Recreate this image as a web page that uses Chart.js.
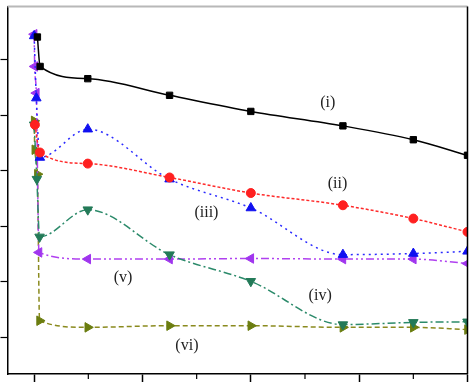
<!DOCTYPE html>
<html>
<head>
<meta charset="utf-8">
<script src="https://cdn.jsdelivr.net/npm/chart.js@4/dist/chart.umd.min.js"></script>
<style>
  html, body { margin: 0; padding: 0; background: #fff; }
  #wrap { width: 474px; height: 382px; position: relative; }
</style>
</head>
<body>
<div id="wrap"><canvas id="chart"></canvas></div>
<script>
// values (x in axis units, y in axis units)
const xI   = [0.3, 0.55, 4.95, 12.5, 20, 28.5, 35, 40];
const yI   = [5.41, 4.88, 4.66, 4.36, 4.07, 3.81, 3.56, 3.28];

const xII  = [0.07, 0.53, 4.95, 12.5, 20, 28.5, 35, 40];
const yII  = [3.83, 3.33, 3.13, 2.88, 2.60, 2.38, 2.14, 1.90];

const xIII = [0, 0.2, 0.53, 4.95, 12.5, 20, 28.5, 35, 40];
const yIII = [5.43, 4.31, 3.24, 3.75, 2.85, 2.33, 1.49, 1.51, 1.55];

const xIV  = [0, 0.25, 0.5, 4.95, 12.5, 20, 28.5, 35, 40];
const yIV  = [3.83, 2.85, 1.81, 2.30, 1.49, 1.01, 0.23, 0.27, 0.28];

const xV   = [0, 0.05, 0.2, 0.45, 4.95, 12.5, 20, 28.5, 35, 40];
const yV   = [5.46, 4.88, 4.40, 1.53, 1.41, 1.41, 1.42, 1.41, 1.41, 1.33];

const xVI  = [0, 0.06, 0.3, 0.5, 4.95, 12.5, 20, 28.5, 35, 40];
const yVI  = [3.90, 3.38, 2.94, 0.30, 0.18, 0.21, 0.21, 0.18, 0.18, 0.14];

const labelText = ['(i)', '(ii)', '(iii)', '(iv)', '(v)', '(vi)'];
const labelX    = [27.1, 28.0, 15.9, 26.4, 8.2, 14.1];
const labelY    = [4.22, 2.76, 2.24, 0.75, 1.07, -0.16];

const xMajor = [0, 10, 20, 30, 40];
const xMinor = [5, 15, 25, 35];
const yTicks = [0, 1, 2, 3, 4, 5];

const pts = (xs, ys) => xs.map((x, i) => ({ x: x, y: ys[i] }));

function series(xs, ys, color, markerColor, dash, style, rot, r) {
    return {
        data: pts(xs, ys),
        borderColor: color,
        backgroundColor: markerColor,
        pointBackgroundColor: markerColor,
        pointBorderColor: markerColor,
        borderWidth: 1.5,
        borderDash: dash,
        pointStyle: style,
        pointRotation: rot,
        pointRadius: r,
        pointBorderWidth: 1,
        cubicInterpolationMode: 'monotone',
        fill: false
    };
}

const extras = {
    id: 'extras',
    afterDraw(chart) {
        const { ctx, chartArea: a, scales: { x, y } } = chart;
        ctx.save();
        // frame top + right
        ctx.strokeStyle = '#b8b8b8';
        ctx.lineWidth = 2;
        ctx.beginPath(); ctx.moveTo(a.left, a.top); ctx.lineTo(a.right, a.top); ctx.stroke();
        ctx.strokeStyle = '#000';
        ctx.lineWidth = 1.5;
        ctx.beginPath(); ctx.moveTo(a.right, a.top); ctx.lineTo(a.right, a.bottom); ctx.stroke();
        // minor x ticks
        ctx.lineWidth = 1.2;
        xMinor.forEach(v => {
            const px = x.getPixelForValue(v);
            ctx.beginPath(); ctx.moveTo(px, a.bottom); ctx.lineTo(px, a.bottom + 5); ctx.stroke();
        });
        // curve labels
        ctx.fillStyle = '#222';
        ctx.font = '16px "Liberation Serif", "DejaVu Serif", serif';
        ctx.textAlign = 'center';
        ctx.textBaseline = 'middle';
        labelText.forEach((t, i) => {
            ctx.fillText(t, x.getPixelForValue(labelX[i]), y.getPixelForValue(labelY[i]));
        });
        ctx.restore();
    }
};

new Chart(document.getElementById('chart'), {
    type: 'line',
    data: {
        datasets: [
            series(xI,   yI,   '#000000', '#000000', [],            'rect',     0,   4.5),
            series(xII,  yII,  '#ff2a2a', '#ff2020', [3, 2],        'circle',   0,   4.5),
            series(xIII, yIII, '#2a2aff', '#1010f0', [2, 4],        'triangle', 0,   5.5),
            series(xIV,  yIV,  '#2b8a6a', '#237a58', [8, 3, 2, 3],  'triangle', 180, 5.5),
            series(xV,   yV,   '#b040f0', '#a035ee', [8, 3, 2, 3, 2, 3], 'triangle', -90, 5.5),
            series(xVI,  yVI,  '#8a8a1e', '#6b7d10', [5, 3],        'triangle', 90,  5.5)
        ]
    },
    options: {
        responsive: true,
        maintainAspectRatio: false,
        animation: false,
        layout: { padding: { left: 0.5, top: 2, right: 6, bottom: 0 } },
        plugins: { legend: { display: false }, tooltip: { enabled: false } },
        scales: {
            x: {
                type: 'linear',
                min: -2.46,
                max: 40,
                afterBuildTicks: s => { s.ticks = xMajor.map(v => ({ value: v })); },
                ticks: { display: false },
                grid: { drawOnChartArea: false, drawTicks: true, tickLength: 8, tickColor: '#000', tickWidth: 1.5 },
                border: { color: '#000', width: 1.5 }
            },
            y: {
                type: 'linear',
                min: -0.66,
                max: 5.96,
                afterBuildTicks: s => { s.ticks = yTicks.map(v => ({ value: v })); },
                ticks: { display: false },
                grid: { drawOnChartArea: false, drawTicks: true, tickLength: 7, tickColor: '#000', tickWidth: 1.2 },
                border: { color: '#000', width: 1.5 }
            }
        }
    },
    plugins: [extras]
});
</script>
</body>
</html>
